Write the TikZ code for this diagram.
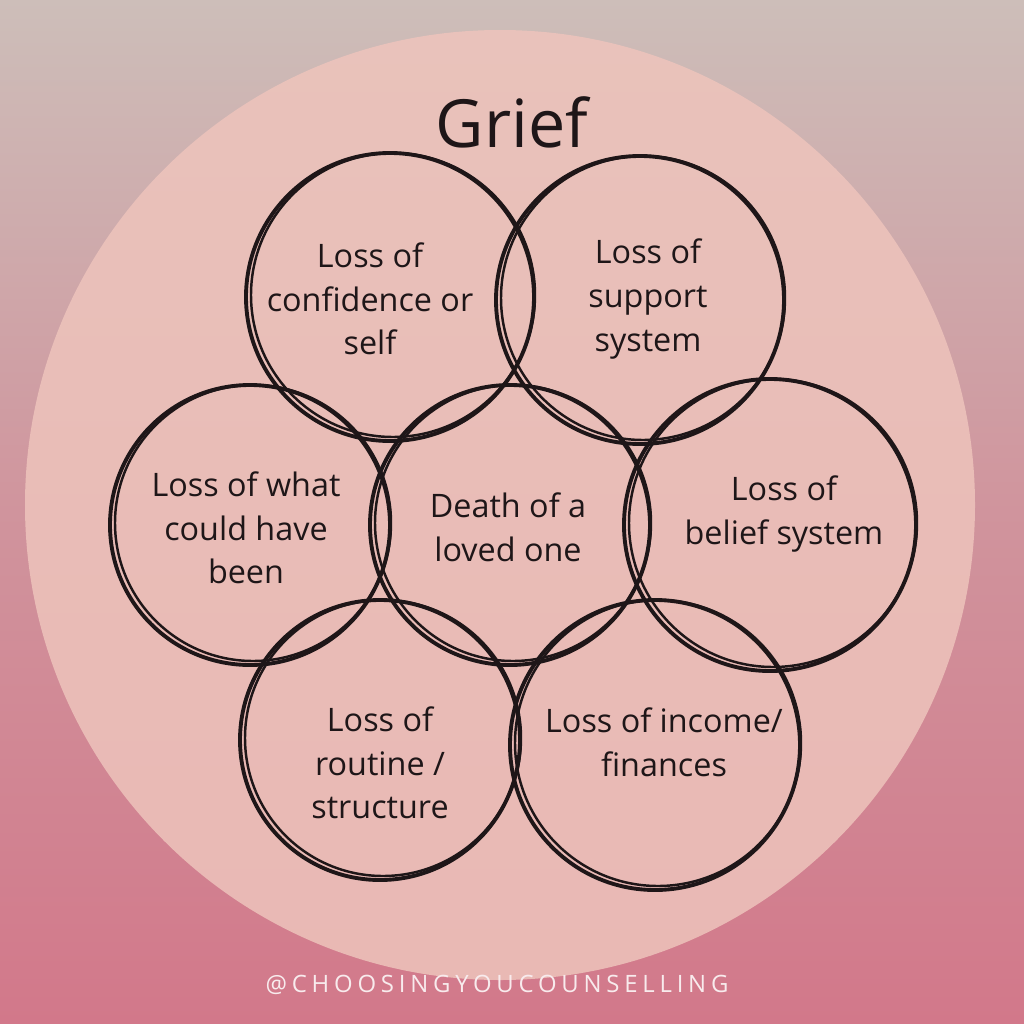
\documentclass[tikz,border=0pt]{standalone}
\usepackage{fontspec}
\setmainfont{Open Sans}
\definecolor{bgpink}{RGB}{210,120,138}
\definecolor{topgrey}{RGB}{205,190,185}
\definecolor{paleback}{RGB}{238,196,188}
\definecolor{inkline}{RGB}{30,22,24}
\tikzset{
  ring/.style={draw=inkline,line width=1.1pt},
  ringlabel/.style={align=center,font=\fontsize{9.2}{12.4}\selectfont,text=inkline},
}
\begin{document}
\begin{tikzpicture}[x=0.01cm,y=-0.01cm]
  \useasboundingbox (0,0) rectangle (1024,1024);
  \shade[top color=topgrey,bottom color=bgpink,middle color=bgpink!60!topgrey] (0,0) rectangle (1024,1024);
  \fill[paleback,opacity=0.85] (500,505) circle (475);
  \node[font=\fontsize{18.9}{20}\selectfont,text=inkline] (title) at (512,122) {Grief};
  % rings, each drawn twice for the sketched look
  \foreach \cx/\cy/\r/\n in {390/297/144/tl,640/300/144/tr,250/525/140/ml,510/525/140/c,770/525/146/mr,380/740/140/bl,655/745/145/br}{
    \draw[ring] (\cx,\cy) circle (\r);
    \draw[ring,line width=0.7pt] (\cx+3,\cy-2) circle (\r-2);
    \coordinate (\n) at (\cx,\cy);
  }
  \node[ringlabel] (tltext) at (370,299) {Loss of\\confidence or\\self};
  \node[ringlabel] (trtext) at (648,299) {Loss of\\support\\system};
  \node[ringlabel] (mltext) at (246,528) {Loss of what\\could have\\been};
  \node[ringlabel] (ctext) at (508,527) {Death of a\\loved one};
  \node[ringlabel] (mrtext) at (784,514) {Loss of\\belief system};
  \node[ringlabel] (bltext) at (380,763) {Loss of\\routine /\\structure};
  \node[ringlabel] (brtext) at (664,742) {Loss of income/\\finances};
  \node[font=\fontsize{6.8}{8}\selectfont,text=white!85!bgpink] (footer) at (497,985) {\addfontfeature{LetterSpace=20}@CHOOSINGYOUCOUNSELLING};
\end{tikzpicture}
\end{document}
